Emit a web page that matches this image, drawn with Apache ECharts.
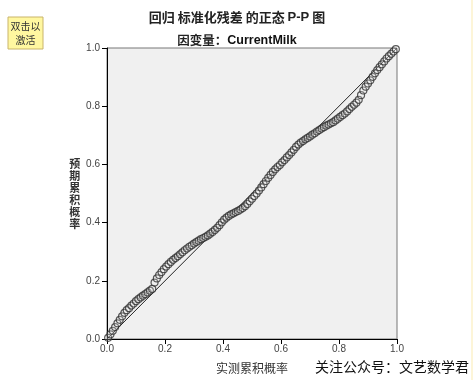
<!DOCTYPE html>
<html>
<head>
<meta charset="utf-8">
<script src="https://cdn.jsdelivr.net/npm/echarts@6/dist/echarts.min.js"></script>
<style>
html,body{margin:0;padding:0;background:#fff;}
#chart{width:474px;height:380px;}
</style>
</head>
<body>
<div id="chart"></div>
<script>
var observedCumProb = [
0.004,0.012,0.020,0.028,0.036,0.044,0.052,0.060,0.068,0.076,
0.084,0.092,0.100,0.108,0.116,0.124,0.132,0.140,0.148,0.156,
0.164,0.172,0.180,0.188,0.196,0.204,0.212,0.220,0.228,0.236,
0.244,0.252,0.260,0.268,0.276,0.284,0.292,0.300,0.308,0.316,
0.324,0.332,0.340,0.348,0.356,0.364,0.372,0.380,0.388,0.396,
0.404,0.412,0.420,0.428,0.436,0.444,0.452,0.460,0.468,0.476,
0.484,0.492,0.500,0.508,0.516,0.524,0.532,0.540,0.548,0.556,
0.564,0.572,0.580,0.588,0.596,0.604,0.612,0.620,0.628,0.636,
0.644,0.652,0.660,0.668,0.676,0.684,0.692,0.700,0.708,0.716,
0.724,0.732,0.740,0.748,0.756,0.764,0.772,0.780,0.788,0.796,
0.804,0.812,0.820,0.828,0.836,0.844,0.852,0.860,0.868,0.876,
0.884,0.892,0.900,0.908,0.916,0.924,0.932,0.940,0.948,0.956,
0.964,0.972,0.980,0.988,0.996
];
// Expected cumulative probability (y)
var expectedCumProb = [
0.004,0.016,0.028,0.041,0.054,0.066,0.078,0.090,0.099,0.106,
0.115,0.122,0.130,0.137,0.143,0.149,0.154,0.160,0.166,0.172,
0.194,0.208,0.220,0.230,0.240,0.249,0.257,0.265,0.272,0.278,
0.284,0.291,0.298,0.305,0.311,0.317,0.322,0.328,0.333,0.338,
0.343,0.347,0.351,0.356,0.362,0.368,0.375,0.382,0.391,0.401,
0.410,0.417,0.423,0.428,0.432,0.436,0.440,0.445,0.450,0.456,
0.464,0.473,0.482,0.491,0.500,0.510,0.521,0.532,0.543,0.554,
0.564,0.574,0.583,0.591,0.598,0.607,0.615,0.624,0.632,0.641,
0.650,0.660,0.668,0.675,0.680,0.686,0.691,0.696,0.702,0.707,
0.713,0.718,0.723,0.728,0.733,0.737,0.741,0.745,0.751,0.757,
0.763,0.769,0.775,0.782,0.790,0.798,0.805,0.812,0.822,0.838,
0.854,0.867,0.878,0.889,0.901,0.913,0.924,0.934,0.944,0.954,
0.964,0.972,0.980,0.988,0.996
];
var diagonalLine = [[0, 0], [1, 1]];

var subtitleLabel = '因变量：';
var subtitleVar = 'CurrentMilk';
var xAxisName = '实测累积概率';
var yAxisName = '预期累积概率';
var watermark = '关注公众号：文艺数学君';
var badgeText = '双击以\n激活';

var points = observedCumProb.map(function (x, i) { return [x, expectedCumProb[i]]; });

var chart = echarts.init(document.getElementById('chart'), null, {renderer: 'canvas'});
var cjk = '"Noto Sans CJK SC", "Noto Sans", sans-serif';
var lat = '"Liberation Sans", Arial, sans-serif';

var axisCommon = {
  type: 'value', min: 0, max: 1, interval: 0.2,
  axisLine: {show: true, lineStyle: {color: '#000', width: 1}},
  axisTick: {show: true, length: 5, lineStyle: {color: '#000'}},
  splitLine: {show: false},
  axisLabel: {color: '#444', fontSize: 10, fontFamily: lat,
    formatter: function (v) { return v.toFixed(1); }}
};

chart.setOption({
  animation: false,
  backgroundColor: '#fff',
  title: [{
    text: '{c|回归 标准化残差 的正态 }{b|P-P}{c| 图}',
    left: 232, top: 6, textAlign: 'center',
    textStyle: {rich: {
      c: {fontFamily: cjk, fontSize: 13, fontWeight: 'bold', color: '#222'},
      b: {fontFamily: lat, fontSize: 13, fontWeight: 'bold', color: '#222'}
    }}
  }, {
    text: '{c|' + subtitleLabel + '}{b|' + subtitleVar + '}',
    left: 232, top: 29, textAlign: 'center',
    textStyle: {rich: {
      c: {fontFamily: cjk, fontSize: 12.5, fontWeight: 'bold', color: '#222'},
      b: {fontFamily: lat, fontSize: 12.5, fontWeight: 'bold', color: '#111'}
    }}
  }],
  grid: {left: 107, right: 77, top: 48, bottom: 41, show: true,
    backgroundColor: '#f0f0f0', borderColor: '#777', borderWidth: 1},
  xAxis: Object.assign({}, axisCommon, {
    name: xAxisName, nameLocation: 'middle', nameGap: 23,
    nameTextStyle: {fontFamily: cjk, fontSize: 12, color: '#333'},
    axisLabel: Object.assign({}, axisCommon.axisLabel, {margin: 5})
  }),
  yAxis: Object.assign({}, axisCommon, {
    name: yAxisName.split('').join('\n'), nameLocation: 'middle', nameGap: 25, nameRotate: 0,
    nameTextStyle: {fontFamily: cjk, fontSize: 11, fontWeight: 'bold', color: '#333', lineHeight: 12},
    axisLabel: Object.assign({}, axisCommon.axisLabel, {margin: 7})
  }),
  series: [{
    type: 'line', data: diagonalLine, symbol: 'none', silent: true,
    lineStyle: {color: '#222', width: 1}, z: 2
  }, {
    type: 'scatter', data: points, symbol: 'circle', symbolSize: 7,
    itemStyle: {color: 'rgba(240,240,240,0.3)', borderColor: '#303030', borderWidth: 1.2}, z: 3
  }],
  graphic: [{
    type: 'rect', shape: {x: 8, y: 17, width: 35, height: 32},
    style: {fill: '#fff7a0', stroke: '#c9b46a', lineWidth: 1}
  }, {
    type: 'text', x: 25.5, y: 33,
    style: {text: badgeText, fill: '#333', font: '10px ' + cjk, align: 'center', verticalAlign: 'middle', lineHeight: 14}
  }, {
    type: 'text', x: 315, y: 367,
    style: {text: watermark, fill: '#111', font: '14px ' + cjk, align: 'left', verticalAlign: 'middle'}
  }, {
    type: 'rect', shape: {x: 471, y: 0, width: 2, height: 380},
    style: {fill: '#fdf5d8'}
  }]
});
</script>
</body>
</html>
